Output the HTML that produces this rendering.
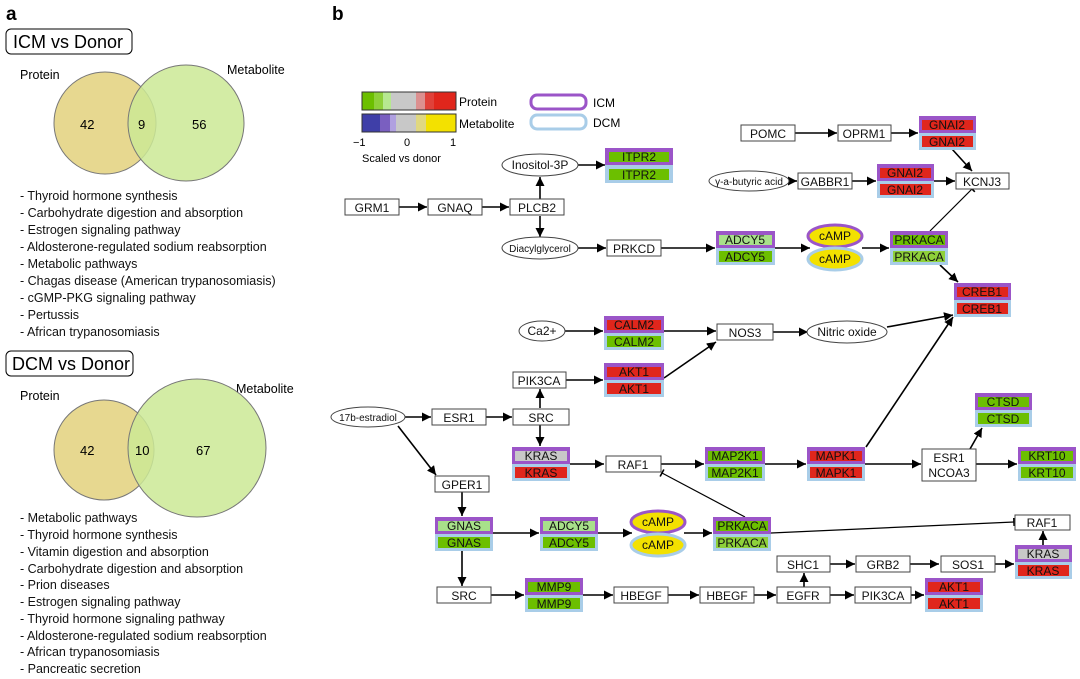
<!DOCTYPE html>
<html><head><meta charset="utf-8"><style>
body{margin:0;background:#fff}
svg{display:block;font-family:"Liberation Sans",sans-serif}
.t{font-size:12.5px;fill:#111}
.n{font-size:12px;text-anchor:middle;fill:#111}
.s{font-size:10px;text-anchor:middle;fill:#111}
.b{fill:#fff;stroke:#444;stroke-width:1}
.l{stroke:#000;stroke-width:1.6;fill:none}
</style></head><body>
<svg width="1080" height="679" viewBox="0 0 1080 679">
<defs>
<marker id="a" viewBox="0 0 10 10" refX="10" refY="5" markerWidth="9" markerHeight="9" markerUnits="userSpaceOnUse" orient="auto"><path d="M0,0L10,5L0,10z" fill="#000"/></marker>
<marker id="tb" viewBox="0 0 2 10" refX="1" refY="5" markerWidth="2" markerHeight="8" markerUnits="userSpaceOnUse" orient="auto"><path d="M1,0V10" stroke="#000" stroke-width="2"/></marker>
</defs>

<!-- Panel a -->
<text x="6" y="20" font-size="19" font-weight="bold">a</text>
<rect x="6" y="29" width="126" height="25" rx="5" fill="#fff" stroke="#000"/>
<text x="13" y="48" font-size="18">ICM vs Donor</text>
<text x="20" y="79" font-size="12.5">Protein</text>
<text x="227" y="74" font-size="12.5">Metabolite</text>
<circle cx="105" cy="123" r="51" fill="#e7d890" stroke="#777"/>
<circle cx="186" cy="123" r="58" fill="#cbe995" fill-opacity="0.85" stroke="#777"/>
<text x="80" y="129" font-size="13">42</text><text x="138" y="129" font-size="13">9</text><text x="192" y="129" font-size="13">56</text>
<g class="t">
<text x="20" y="200">-  Thyroid hormone synthesis</text>
<text x="20" y="217">-  Carbohydrate digestion and absorption</text>
<text x="20" y="234">-  Estrogen signaling pathway</text>
<text x="20" y="251">-  Aldosterone-regulated sodium reabsorption</text>
<text x="20" y="268">-  Metabolic pathways</text>
<text x="20" y="285">-  Chagas disease (American trypanosomiasis)</text>
<text x="20" y="302">-  cGMP-PKG signaling pathway</text>
<text x="20" y="319">-  Pertussis</text>
<text x="20" y="336">-  African trypanosomiasis</text>
</g>
<rect x="6" y="351" width="127" height="25" rx="5" fill="#fff" stroke="#000"/>
<text x="12" y="370" font-size="18">DCM vs Donor</text>
<text x="20" y="400" font-size="12.5">Protein</text>
<text x="236" y="393" font-size="12.5">Metabolite</text>
<circle cx="104" cy="450" r="50" fill="#e7d890" stroke="#777"/>
<circle cx="197" cy="448" r="69" fill="#cbe995" fill-opacity="0.85" stroke="#777"/>
<text x="80" y="455" font-size="13">42</text><text x="135" y="455" font-size="13">10</text><text x="196" y="455" font-size="13">67</text>
<g class="t">
<text x="20" y="522">-  Metabolic pathways</text>
<text x="20" y="539">-  Thyroid hormone synthesis</text>
<text x="20" y="556">-  Vitamin digestion and absorption</text>
<text x="20" y="573">-  Carbohydrate digestion and absorption</text>
<text x="20" y="589">-  Prion diseases</text>
<text x="20" y="606">-  Estrogen signaling pathway</text>
<text x="20" y="623">-  Thyroid hormone signaling pathway</text>
<text x="20" y="640">-  Aldosterone-regulated sodium reabsorption</text>
<text x="20" y="656">-  African trypanosomiasis</text>
<text x="20" y="673">-  Pancreatic secretion</text>
</g>

<!-- Panel b -->
<text x="332" y="20" font-size="19" font-weight="bold">b</text>
<rect x="362" y="92" width="12" height="18" fill="#6cbf00"/><rect x="374" y="92" width="9" height="18" fill="#8ed03a"/><rect x="383" y="92" width="8" height="18" fill="#b6e890"/><rect x="391" y="92" width="25" height="18" fill="#c8c8c8"/><rect x="416" y="92" width="9" height="18" fill="#dc9090"/><rect x="425" y="92" width="9" height="18" fill="#e0413a"/><rect x="434" y="92" width="22" height="18" fill="#e0261c"/>
<rect x="362" y="92" width="94" height="18" fill="none" stroke="#333"/>
<rect x="362" y="114" width="18" height="18" fill="#3f3fa8"/><rect x="380" y="114" width="10" height="18" fill="#7a5fc0"/><rect x="390" y="114" width="6" height="18" fill="#b0a0e0"/><rect x="396" y="114" width="20" height="18" fill="#c8c8c8"/><rect x="416" y="114" width="10" height="18" fill="#e0d880"/><rect x="426" y="114" width="30" height="18" fill="#f3e100"/>
<rect x="362" y="114" width="94" height="18" fill="none" stroke="#333"/>
<text x="459" y="106" font-size="12">Protein</text><text x="459" y="128" font-size="12">Metabolite</text>
<text x="353" y="146" font-size="11">−1</text><text x="404" y="146" font-size="11">0</text><text x="450" y="146" font-size="11">1</text>
<text x="362" y="162" font-size="11">Scaled vs donor</text>
<rect x="531" y="95" width="55" height="14" rx="6" fill="#fff" stroke="#9b55c8" stroke-width="3"/>
<rect x="531" y="115" width="55" height="14" rx="6" fill="#fff" stroke="#a9cde8" stroke-width="3"/>
<text x="593" y="107" font-size="12">ICM</text><text x="593" y="127" font-size="12">DCM</text>

<g class="l" marker-end="url(#a)">
<line x1="399" y1="207" x2="427" y2="207"/>
<line x1="482" y1="207" x2="509" y2="207"/>
<line x1="540" y1="199" x2="540" y2="177"/>
<line x1="540" y1="216" x2="540" y2="237"/>
<line x1="578" y1="165" x2="605" y2="165"/>
<line x1="578" y1="248" x2="606" y2="248"/>
<line x1="661" y1="248" x2="715" y2="248"/>
<line x1="775" y1="248" x2="810" y2="248"/>
<line x1="862" y1="248" x2="889" y2="248"/>
<line x1="795" y1="133" x2="837" y2="133"/>
<line x1="891" y1="133" x2="918" y2="133"/>
<line x1="789" y1="181" x2="797" y2="181"/>
<line x1="852" y1="181" x2="876" y2="181"/>
<line x1="934" y1="181" x2="955" y2="181"/>
<line x1="952" y1="149" x2="972" y2="171"/>
<line x1="940" y1="265" x2="958" y2="282"/>
<line x1="565" y1="331" x2="603" y2="331"/>
<line x1="664" y1="331" x2="716" y2="331"/>
<line x1="664" y1="378" x2="716" y2="342"/>
<line x1="773" y1="332" x2="808" y2="332"/>
<line x1="887" y1="327" x2="953" y2="315"/>
<line x1="566" y1="380" x2="603" y2="380"/>
<line x1="540" y1="408" x2="540" y2="389"/>
<line x1="540" y1="425" x2="540" y2="446"/>
<line x1="405" y1="417" x2="431" y2="417"/>
<line x1="486" y1="417" x2="512" y2="417"/>
<line x1="398" y1="426" x2="436" y2="475"/>
<line x1="570" y1="464" x2="604" y2="464"/>
<line x1="661" y1="464" x2="704" y2="464"/>
<line x1="765" y1="464" x2="806" y2="464"/>
<line x1="865" y1="464" x2="921" y2="464"/>
<line x1="976" y1="464" x2="1017" y2="464"/>
<line x1="970" y1="449" x2="982" y2="428"/>
<line x1="866" y1="447" x2="953" y2="317"/>
<line x1="462" y1="492" x2="462" y2="516"/>
<line x1="493" y1="533" x2="539" y2="533"/>
<line x1="598" y1="533" x2="632" y2="533"/>
<line x1="684" y1="533" x2="712" y2="533"/>
<line x1="462" y1="550" x2="462" y2="586"/>
<line x1="491" y1="595" x2="524" y2="595"/>
<line x1="583" y1="595" x2="613" y2="595"/>
<line x1="668" y1="595" x2="699" y2="595"/>
<line x1="754" y1="595" x2="776" y2="595"/>
<line x1="830" y1="595" x2="854" y2="595"/>
<line x1="911" y1="595" x2="924" y2="595"/>
<line x1="804" y1="587" x2="804" y2="573"/>
<line x1="830" y1="564" x2="855" y2="564"/>
<line x1="910" y1="564" x2="939" y2="564"/>
<line x1="995" y1="564" x2="1014" y2="564"/>
<line x1="1043" y1="545" x2="1043" y2="531"/>
</g>
<g stroke="#000" stroke-width="1.2" fill="none" marker-end="url(#tb)">
<line x1="930" y1="231" x2="972" y2="189"/>
<line x1="745" y1="517" x2="662" y2="473"/>
<line x1="771" y1="533" x2="1014" y2="522"/>
</g>

<g>
<rect class="b" x="345" y="199" width="54" height="16"/><text class="n" x="372" y="212">GRM1</text>
<rect class="b" x="428" y="199" width="54" height="16"/><text class="n" x="455" y="212">GNAQ</text>
<rect class="b" x="510" y="199" width="54" height="16"/><text class="n" x="537" y="212">PLCB2</text>
<rect class="b" x="607" y="240" width="54" height="16"/><text class="n" x="634" y="253">PRKCD</text>
<rect class="b" x="741" y="125" width="54" height="16"/><text class="n" x="768" y="138">POMC</text>
<rect class="b" x="838" y="125" width="53" height="16"/><text class="n" x="864" y="138">OPRM1</text>
<rect class="b" x="798" y="173" width="54" height="16"/><text class="n" x="825" y="186">GABBR1</text>
<rect class="b" x="956" y="173" width="53" height="16"/><text class="n" x="982" y="186">KCNJ3</text>
<rect class="b" x="717" y="324" width="56" height="16"/><text class="n" x="745" y="337">NOS3</text>
<rect class="b" x="513" y="372" width="53" height="16"/><text class="n" x="539" y="385">PIK3CA</text>
<rect class="b" x="432" y="409" width="54" height="16"/><text class="n" x="459" y="422">ESR1</text>
<rect class="b" x="513" y="409" width="56" height="16"/><text class="n" x="541" y="422">SRC</text>
<rect class="b" x="606" y="456" width="55" height="16"/><text class="n" x="633" y="469">RAF1</text>
<rect class="b" x="922" y="449" width="54" height="32"/><text class="n" x="949" y="462">ESR1</text><text class="n" x="949" y="477">NCOA3</text>
<rect class="b" x="435" y="476" width="54" height="16"/><text class="n" x="462" y="489">GPER1</text>
<rect class="b" x="1015" y="515" width="55" height="15"/><text class="n" x="1042" y="527">RAF1</text>
<rect class="b" x="777" y="556" width="53" height="16"/><text class="n" x="803" y="569">SHC1</text>
<rect class="b" x="856" y="556" width="54" height="16"/><text class="n" x="883" y="569">GRB2</text>
<rect class="b" x="941" y="556" width="54" height="16"/><text class="n" x="968" y="569">SOS1</text>
<rect class="b" x="437" y="587" width="54" height="16"/><text class="n" x="464" y="600">SRC</text>
<rect class="b" x="614" y="587" width="54" height="16"/><text class="n" x="641" y="600">HBEGF</text>
<rect class="b" x="700" y="587" width="54" height="16"/><text class="n" x="727" y="600">HBEGF</text>
<rect class="b" x="777" y="587" width="53" height="16"/><text class="n" x="803" y="600">EGFR</text>
<rect class="b" x="855" y="587" width="56" height="16"/><text class="n" x="883" y="600">PIK3CA</text>
</g>

<g fill="#fff" stroke="#444">
<ellipse cx="540" cy="165" rx="38" ry="11"/><ellipse cx="540" cy="248" rx="38" ry="11"/>
<ellipse cx="749" cy="181" rx="40" ry="10"/><ellipse cx="542" cy="331" rx="23" ry="10"/>
<ellipse cx="847" cy="332" rx="40" ry="11"/><ellipse cx="368" cy="417" rx="37" ry="10"/>
</g>
<text class="n" x="540" y="169">Inositol-3P</text>
<text class="s" x="540" y="252">Diacylglycerol</text>
<text class="s" x="749" y="185">γ-a-butyric acid</text>
<text class="n" x="542" y="335">Ca2+</text>
<text class="n" x="847" y="336">Nitric oxide</text>
<text class="s" x="368" y="421">17b-estradiol</text>

<g stroke-width="3">
<ellipse cx="835" cy="236" rx="27" ry="11" fill="#f3e100" stroke="#9b55c8"/>
<ellipse cx="835" cy="259" rx="27" ry="11" fill="#f3e100" stroke="#a9cde8"/>
<ellipse cx="658" cy="522" rx="27" ry="11" fill="#f3e100" stroke="#9b55c8"/>
<ellipse cx="658" cy="545" rx="27" ry="11" fill="#f3e100" stroke="#a9cde8"/>
</g>
<text class="n" x="835" y="240" font-size="13">cAMP</text><text class="n" x="835" y="263" font-size="13">cAMP</text>
<text class="n" x="658" y="526" font-size="13">cAMP</text><text class="n" x="658" y="549" font-size="13">cAMP</text>

<g>
<rect x="605" y="148" width="68" height="17" fill="#9b55c8"/><rect x="605" y="165" width="68" height="18" fill="#a9cde8"/>
<rect x="609" y="152" width="60" height="10" fill="#6cbf00"/><rect x="609" y="169" width="60" height="11" fill="#6cbf00"/>
<text class="n" x="639" y="161">ITPR2</text><text class="n" x="639" y="179">ITPR2</text>
<rect x="919" y="116" width="57" height="17" fill="#9b55c8"/><rect x="919" y="133" width="57" height="17" fill="#a9cde8"/>
<rect x="922" y="120" width="51" height="10" fill="#e0261c"/><rect x="922" y="136" width="51" height="11" fill="#e0261c"/>
<text class="n" x="947" y="129">GNAI2</text><text class="n" x="947" y="146">GNAI2</text>
<rect x="877" y="164" width="57" height="17" fill="#9b55c8"/><rect x="877" y="181" width="57" height="17" fill="#a9cde8"/>
<rect x="880" y="168" width="51" height="10" fill="#e0261c"/><rect x="880" y="184" width="51" height="11" fill="#e0261c"/>
<text class="n" x="905" y="177">GNAI2</text><text class="n" x="905" y="194">GNAI2</text>
<rect x="716" y="231" width="59" height="17" fill="#9b55c8"/><rect x="716" y="248" width="59" height="17" fill="#a9cde8"/>
<rect x="719" y="235" width="53" height="10" fill="#a8e08a"/><rect x="719" y="251" width="53" height="11" fill="#6cbf00"/>
<text class="n" x="745" y="244">ADCY5</text><text class="n" x="745" y="261">ADCY5</text>
<rect x="890" y="231" width="58" height="17" fill="#9b55c8"/><rect x="890" y="248" width="58" height="17" fill="#a9cde8"/>
<rect x="893" y="235" width="52" height="10" fill="#6cbf00"/><rect x="893" y="251" width="52" height="11" fill="#8ed03a"/>
<text class="n" x="919" y="244" font-size="11">PRKACA</text><text class="n" x="919" y="261" font-size="11">PRKACA</text>
<rect x="954" y="283" width="57" height="17" fill="#9b55c8"/><rect x="954" y="300" width="57" height="17" fill="#a9cde8"/>
<rect x="957" y="287" width="51" height="10" fill="#e0261c"/><rect x="957" y="303" width="51" height="11" fill="#e0261c"/>
<text class="n" x="982" y="296">CREB1</text><text class="n" x="982" y="313">CREB1</text>
<rect x="604" y="316" width="60" height="17" fill="#9b55c8"/><rect x="604" y="333" width="60" height="17" fill="#a9cde8"/>
<rect x="607" y="320" width="54" height="10" fill="#e0261c"/><rect x="607" y="336" width="54" height="11" fill="#6cbf00"/>
<text class="n" x="634" y="329">CALM2</text><text class="n" x="634" y="346">CALM2</text>
<rect x="604" y="363" width="60" height="17" fill="#9b55c8"/><rect x="604" y="380" width="60" height="17" fill="#a9cde8"/>
<rect x="607" y="367" width="54" height="10" fill="#e0261c"/><rect x="607" y="383" width="54" height="11" fill="#e0261c"/>
<text class="n" x="634" y="376">AKT1</text><text class="n" x="634" y="393">AKT1</text>
<rect x="512" y="447" width="58" height="17" fill="#9b55c8"/><rect x="512" y="464" width="58" height="17" fill="#a9cde8"/>
<rect x="515" y="451" width="52" height="10" fill="#c8c8c8"/><rect x="515" y="467" width="52" height="11" fill="#e0261c"/>
<text class="n" x="541" y="460">KRAS</text><text class="n" x="541" y="477">KRAS</text>
<rect x="705" y="447" width="60" height="17" fill="#9b55c8"/><rect x="705" y="464" width="60" height="17" fill="#a9cde8"/>
<rect x="708" y="451" width="54" height="10" fill="#6cbf00"/><rect x="708" y="467" width="54" height="11" fill="#6cbf00"/>
<text class="n" x="735" y="460" font-size="11.5">MAP2K1</text><text class="n" x="735" y="477" font-size="11.5">MAP2K1</text>
<rect x="807" y="447" width="58" height="17" fill="#9b55c8"/><rect x="807" y="464" width="58" height="17" fill="#a9cde8"/>
<rect x="810" y="451" width="52" height="10" fill="#e0261c"/><rect x="810" y="467" width="52" height="11" fill="#e0261c"/>
<text class="n" x="836" y="460">MAPK1</text><text class="n" x="836" y="477">MAPK1</text>
<rect x="975" y="393" width="57" height="17" fill="#9b55c8"/><rect x="975" y="410" width="57" height="17" fill="#a9cde8"/>
<rect x="978" y="397" width="51" height="10" fill="#6cbf00"/><rect x="978" y="413" width="51" height="11" fill="#6cbf00"/>
<text class="n" x="1003" y="406">CTSD</text><text class="n" x="1003" y="423">CTSD</text>
<rect x="1018" y="447" width="58" height="17" fill="#9b55c8"/><rect x="1018" y="464" width="58" height="17" fill="#a9cde8"/>
<rect x="1021" y="451" width="52" height="10" fill="#6cbf00"/><rect x="1021" y="467" width="52" height="11" fill="#6cbf00"/>
<text class="n" x="1047" y="460">KRT10</text><text class="n" x="1047" y="477">KRT10</text>
<rect x="435" y="517" width="58" height="17" fill="#9b55c8"/><rect x="435" y="534" width="58" height="17" fill="#a9cde8"/>
<rect x="438" y="521" width="52" height="10" fill="#a8e08a"/><rect x="438" y="537" width="52" height="11" fill="#6cbf00"/>
<text class="n" x="464" y="530">GNAS</text><text class="n" x="464" y="547">GNAS</text>
<rect x="540" y="517" width="58" height="17" fill="#9b55c8"/><rect x="540" y="534" width="58" height="17" fill="#a9cde8"/>
<rect x="543" y="521" width="52" height="10" fill="#a8e08a"/><rect x="543" y="537" width="52" height="11" fill="#6cbf00"/>
<text class="n" x="569" y="530">ADCY5</text><text class="n" x="569" y="547">ADCY5</text>
<rect x="713" y="517" width="58" height="17" fill="#9b55c8"/><rect x="713" y="534" width="58" height="17" fill="#a9cde8"/>
<rect x="716" y="521" width="52" height="10" fill="#6cbf00"/><rect x="716" y="537" width="52" height="11" fill="#8ed03a"/>
<text class="n" x="742" y="530" font-size="11">PRKACA</text><text class="n" x="742" y="547" font-size="11">PRKACA</text>
<rect x="525" y="578" width="58" height="17" fill="#9b55c8"/><rect x="525" y="595" width="58" height="17" fill="#a9cde8"/>
<rect x="528" y="582" width="52" height="10" fill="#6cbf00"/><rect x="528" y="598" width="52" height="11" fill="#6cbf00"/>
<text class="n" x="554" y="591">MMP9</text><text class="n" x="554" y="608">MMP9</text>
<rect x="1015" y="545" width="57" height="17" fill="#9b55c8"/><rect x="1015" y="562" width="57" height="17" fill="#a9cde8"/>
<rect x="1018" y="549" width="51" height="10" fill="#c8c8c8"/><rect x="1018" y="565" width="51" height="11" fill="#e0261c"/>
<text class="n" x="1043" y="558">KRAS</text><text class="n" x="1043" y="575">KRAS</text>
<rect x="925" y="578" width="58" height="17" fill="#9b55c8"/><rect x="925" y="595" width="58" height="17" fill="#a9cde8"/>
<rect x="928" y="582" width="52" height="10" fill="#e0261c"/><rect x="928" y="598" width="52" height="11" fill="#e0261c"/>
<text class="n" x="954" y="591">AKT1</text><text class="n" x="954" y="608">AKT1</text>
</g>
</svg>
</body></html>
